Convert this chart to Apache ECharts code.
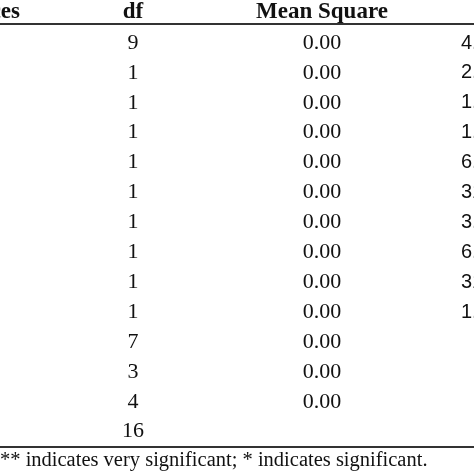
<!DOCTYPE html>
<html><head><meta charset="utf-8">
<script src="https://cdn.jsdelivr.net/npm/echarts@6/dist/echarts.min.js"></script>
<style>html,body{margin:0;padding:0;background:#fff}#c{width:474px;height:474px}</style>
</head><body><div id="c"></div>
<script>
const headers = ["Sources", "df", "Mean Square"];
const dfValues = ["9","1","1","1","1","1","1","1","1","1","7","3","4","16"];
const meanSquares = ["0.00","0.00","0.00","0.00","0.00","0.00","0.00","0.00","0.00","0.00","0.00","0.00","0.00",""];
const cutValues = ["4.21","2.11","1.02","1.13","6.05","31.2","3.44","6.01","31.9","1.05","","","",""];
const footnote = "** indicates very significant; * indicates significant.";

const serif = "'Liberation Serif', 'DejaVu Serif', serif";
const rowY0 = 43, rowStep = 29.9;
const g = [];
function txt(x, y, s, align, opts) {
  g.push({type:'text', x, y, style:Object.assign({text:s, align, verticalAlign:'middle', font:"22px " + serif, fill:'#111'}, opts||{})});
}
txt(20, 12, headers[0], 'right', {font:"bold 23px " + serif});
txt(133, 12, headers[1], 'center', {font:"bold 23px " + serif});
txt(322, 12, headers[2], 'center', {font:"bold 23px " + serif});
g.push({type:'rect', shape:{x:0,y:23,width:474,height:2}, style:{fill:'#333'}});
dfValues.forEach((v,i)=>{
  const y = rowY0 + i*rowStep;
  txt(133, y, v, 'center');
  if (meanSquares[i]) txt(322, y, meanSquares[i], 'center');
  if (cutValues[i]) txt(461, y, cutValues[i], 'left', {font:"20px 'Liberation Sans', Arial, sans-serif"});
});
g.push({type:'rect', shape:{x:0,y:446,width:474,height:2}, style:{fill:'#333'}});
txt(0, 461, footnote, 'left', {font:"20.5px " + serif});

const chart = echarts.init(document.getElementById('c'));
chart.setOption({animation:false, graphic:g});
</script></body></html>
